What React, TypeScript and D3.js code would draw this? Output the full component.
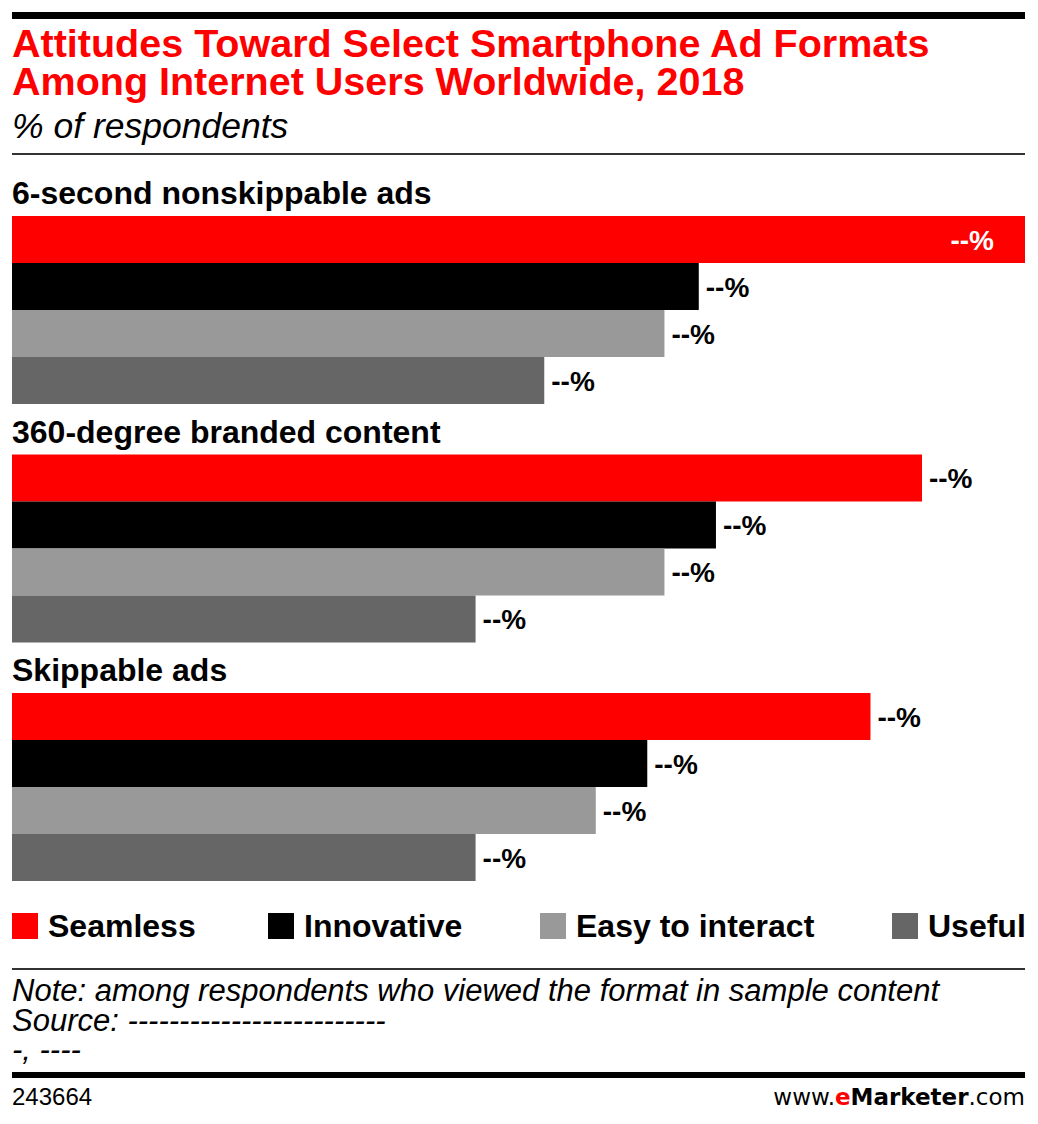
import React from "react";
import * as d3 from "d3";

const categories = ["6-second nonskippable ads", "360-degree branded content", "Skippable ads"];
const seriesNames = ["Seamless", "Innovative", "Easy to interact", "Useful"];
const seamless = [59, 53, 50];
const innovative = [40, 41, 37];
const easyToInteract = [38, 38, 34];
const useful = [31, 27, 27];
const valueLabels = ["--%", "--%", "--%"];
const colors = ["#ff0000", "#000000", "#999999", "#666666"];

const W = 1038;
const H = 1124;
const FONT = "'Liberation Sans', Arial, sans-serif";
const WIDE = "'DejaVu Sans', Verdana, sans-serif";

export default function App() {
  const seriesValues = [seamless, innovative, easyToInteract, useful];
  const x = d3.scaleLinear().domain([0, 59]).range([12, 1025]);
  const yGroup = d3.scaleBand<string>().domain(categories).range([216, 216 + 3 * 238.5]).paddingInner(0);
  const yBar = d3.scaleBand<string>().domain(seriesNames).range([0, 188]).paddingInner(0);
  const legendX = [12, 268, 540, 892];

  return (
    <svg width={W} height={H} style={{ position: "absolute", left: 0, top: 0, background: "#fff" }} fontFamily={FONT}>
      <rect x={12} y={12} width={1013} height={7} fill="#000" />
      <text x={12} y={57} fill="#ff0000" fontWeight="bold" fontSize={39.5}>Attitudes Toward Select Smartphone Ad Formats</text>
      <text x={12} y={95} fill="#ff0000" fontWeight="bold" fontSize={39.5}>Among Internet Users Worldwide, 2018</text>
      <text x={12} y={138} fill="#000" fontStyle="italic" fontSize={35.5}>% of respondents</text>
      <rect x={12} y={153} width={1013} height={2} fill="#333" />

      {categories.map((cat, ci) => {
        const gy = yGroup(cat)!;
        return (
          <g key={cat}>
            <text x={12} y={gy - 12} fontWeight="bold" fontSize={32} fill="#000">{cat}</text>
            {seriesNames.map((s, si) => {
              const v = seriesValues[si][ci];
              const by = gy + yBar(s)!;
              const bw = x(v) - x(0);
              const inside = x(v) + 70 > 1025;
              return (
                <g key={s}>
                  <rect x={x(0)} y={by} width={bw} height={yBar.bandwidth()} fill={colors[si]} />
                  <text
                    x={inside ? x(v) - 31 : x(v) + 7}
                    y={by + yBar.bandwidth() / 2}
                    dy="0.36em"
                    textAnchor={inside ? "end" : "start"}
                    fontWeight="bold"
                    fontSize={28}
                    fill={inside ? "#fff" : "#000"}
                  >
                    {valueLabels[ci]}
                  </text>
                </g>
              );
            })}
          </g>
        );
      })}

      {seriesNames.map((s, si) => (
        <g key={s}>
          <rect x={legendX[si]} y={913} width={26} height={26} fill={colors[si]} />
          <text x={legendX[si] + 36} y={937} fontWeight="bold" fontSize={32} fill="#000">{s}</text>
        </g>
      ))}

      <rect x={12} y={968} width={1013} height={2} fill="#333" />
      <text x={12} y={1001} fontStyle="italic" fontSize={31} fill="#000">Note: among respondents who viewed the format in sample content</text>
      <text x={12} y={1031} fontStyle="italic" fontSize={31} fill="#000">Source: -------------------------</text>
      <text x={12} y={1060} fontStyle="italic" fontSize={31} fill="#000">-, ----</text>
      <rect x={12} y={1072} width={1013} height={6} fill="#000" />
      <text x={12} y={1105} fontSize={24} fill="#000">243664</text>
      <text x={1025} y={1105} fontSize={23} fontFamily={WIDE} textAnchor="end" fill="#000">
        www.<tspan fill="#ff0000" fontWeight="bold">e</tspan><tspan fontWeight="bold">Marketer</tspan>.com
      </text>
    </svg>
  );
}
